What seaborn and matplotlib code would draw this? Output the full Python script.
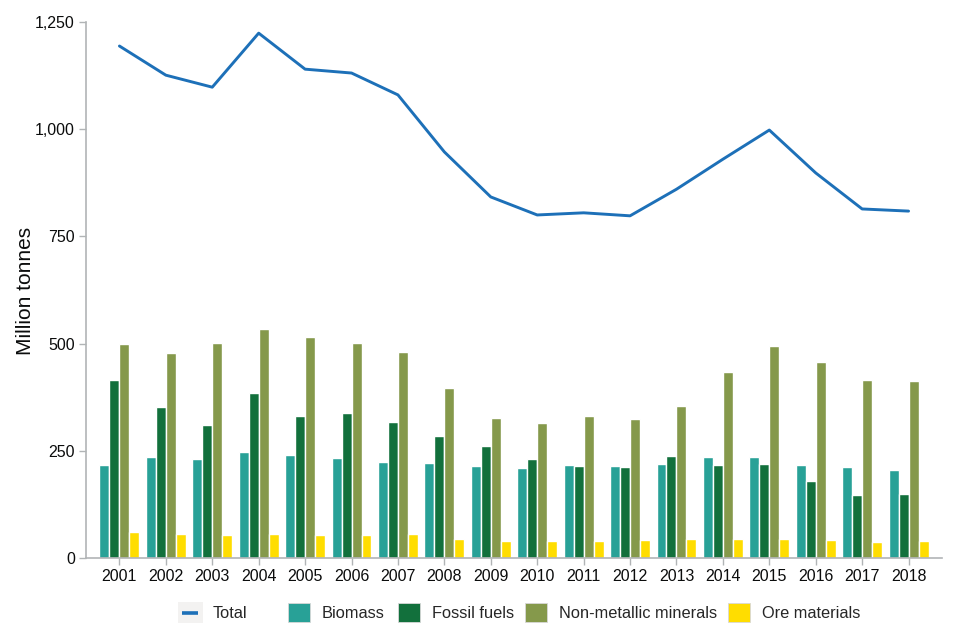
import numpy as np
import pandas as pd
import matplotlib
matplotlib.use("Agg")
import matplotlib.pyplot as plt
from matplotlib.patches import Patch, Rectangle
from matplotlib.lines import Line2D
from matplotlib.legend_handler import HandlerBase
from matplotlib.ticker import FuncFormatter
import seaborn as sns

years = [str(y) for y in range(2001, 2019)]
total = [1194, 1126, 1098, 1224, 1140, 1131, 1080, 947, 842, 800, 805, 798, 860, 930, 998, 898, 814, 809]
biomass = [218, 235, 232, 247, 240, 234, 225, 222, 214, 211, 217, 215, 219, 235, 235, 216, 212, 205]
fossil = [415, 353, 310, 384, 330, 338, 316, 285, 261, 231, 215, 212, 237, 216, 219, 180, 147, 149]
nonmet = [499, 478, 501, 534, 515, 502, 481, 396, 327, 314, 331, 324, 355, 433, 495, 457, 415, 413]
ore = [61, 57, 53, 55, 53, 53, 56, 45, 40, 40, 40, 42, 44, 45, 44, 42, 38, 40]

materials = ["Biomass", "Fossil fuels", "Non-metallic minerals", "Ore materials"]
colors = ["#28a197", "#12703c", "#85994b", "#ffdd00"]
line_color = "#1d70b8"

df = pd.DataFrame({
    "Year": years * 4,
    "Material": sum([[m] * len(years) for m in materials], []),
    "Value": biomass + fossil + nonmet + ore,
})

sns.set_style("white")
plt.rcParams["font.family"] = ["Liberation Sans", "DejaVu Sans"]

fig = plt.figure(figsize=(9.6, 6.4), dpi=100)
ax = fig.add_axes([86 / 960, 82 / 640, (942 - 86) / 960, (558 - 22) / 640])

sns.barplot(data=df, x="Year", y="Value", hue="Material", hue_order=materials,
            palette=colors, width=0.86, edgecolor="white", linewidth=1.0,
            saturation=1, errorbar=None, legend=False, ax=ax)
sns.lineplot(x=np.arange(len(years)), y=total, color=line_color, linewidth=2.1, ax=ax)

ax.set_xlim(-0.72, len(years) - 1 + 0.72)
ax.set_ylim(0, 1250)
ax.set_yticks([0, 250, 500, 750, 1000, 1250])
ax.yaxis.set_major_formatter(FuncFormatter(lambda v, p: f"{int(v):,}"))
ax.set_xlabel("")
ax.set_ylabel("Million tonnes", fontsize=15, color="#0b0c0c")
ax.yaxis.set_label_coords(-0.059, 0.498)

spine_c = "#b1b4b6"
for s in ["top", "right"]:
    ax.spines[s].set_visible(False)
for s in ["left", "bottom"]:
    ax.spines[s].set_color(spine_c)
    ax.spines[s].set_linewidth(1.2)
ax.tick_params(axis="both", which="major", length=5, width=1, color=spine_c,
               labelsize=11.5, labelcolor="#0b0c0c", direction="out", pad=3)
ax.tick_params(left=True, bottom=True)
ax.grid(False)


class TotalHandler(HandlerBase):
    def create_artists(self, legend, orig_handle, xdescent, ydescent, width, height,
                       fontsize, trans):
        ext = 1.0
        rect = Rectangle((-xdescent - ext, -ydescent - ext), width + 2 * ext, height + 2 * ext,
                         facecolor="#f3f2f1", edgecolor="none", transform=trans)
        y = -ydescent + height / 2
        line = Line2D([-xdescent + width * 0.13, -xdescent + width * 0.87], [y, y],
                      color=line_color, linewidth=2.6, solid_capstyle="butt", transform=trans)
        return [rect, line]


total_handle = Line2D([], [], color=line_color)
handles = [total_handle] + [Patch(facecolor=c, edgecolor="#d8d8d8", linewidth=0.6) for c in colors]
labels = ["Total"] + materials
left_px = [179, 288, 398, 525, 728]
for h, lab, xp in zip(handles, labels, left_px):
    fig.legend([h], [lab], loc="center left", bbox_to_anchor=(xp / 960, 1 - 612.5 / 640),
               frameon=False, fontsize=11.8, handlelength=1.35, handleheight=1.35,
               handletextpad=0.72, borderpad=0, borderaxespad=0,
               handler_map={total_handle: TotalHandler()})

fig.savefig("out.png", dpi=100)
